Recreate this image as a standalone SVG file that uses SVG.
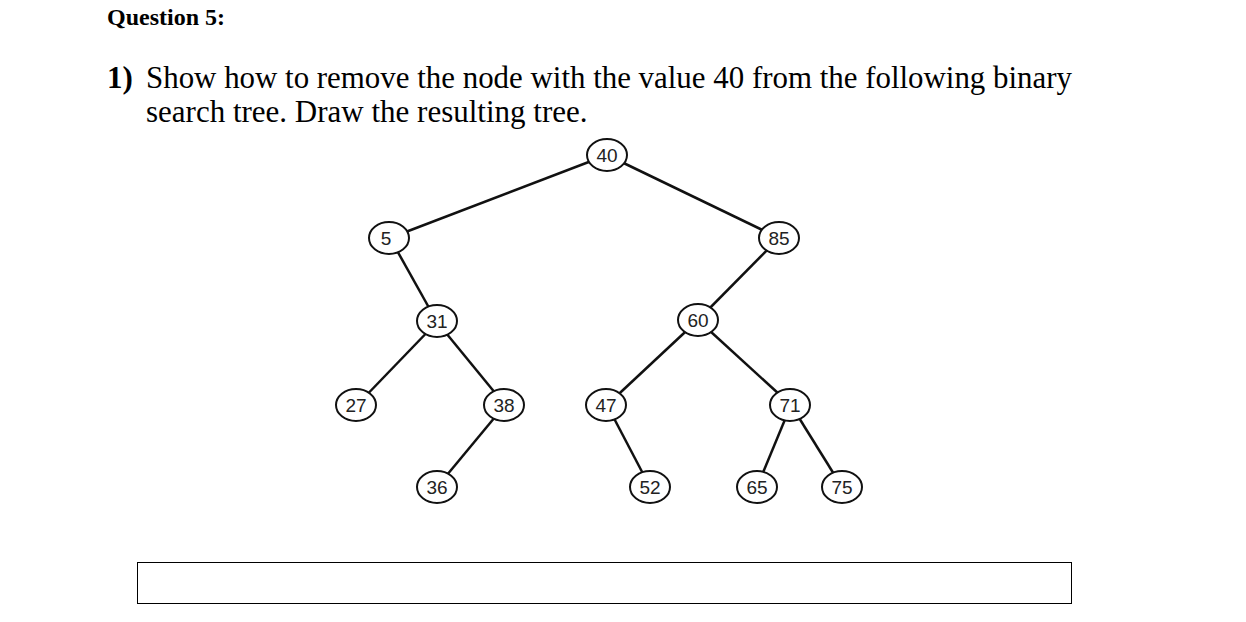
<svg xmlns="http://www.w3.org/2000/svg" width="1246" height="622" viewBox="0 0 1246 622">
<style>
.t{font-family:"Liberation Serif",serif;fill:#000}
.n ellipse{fill:#fff;stroke:#111;stroke-width:2}
.n text{font-family:"Liberation Sans",Arial,sans-serif;font-size:19px;text-anchor:middle;fill:#222}
.e line{stroke:#111;stroke-width:2.5}
</style>
<rect width="1246" height="622" fill="#fff"/>
<text class="t" x="107" y="25" font-size="24" font-weight="bold">Question 5:</text>
<text class="t" x="107" y="88" font-size="31" font-weight="bold">1)</text>
<text class="t" x="146" y="88" font-size="31" textLength="926" lengthAdjust="spacingAndGlyphs">Show how to remove the node with the value 40 from the following binary</text>
<text class="t" x="146" y="122" font-size="31">search tree. Draw the resulting tree.</text>
<g class="e">
<line x1="607" y1="155" x2="390" y2="238"/>
<line x1="607" y1="155" x2="779" y2="238"/>
<line x1="390" y1="238" x2="437" y2="322"/>
<line x1="779" y1="238" x2="698" y2="320"/>
<line x1="437" y1="322" x2="357" y2="405"/>
<line x1="437" y1="322" x2="505" y2="405"/>
<line x1="698" y1="320" x2="607" y2="405"/>
<line x1="698" y1="320" x2="791" y2="405"/>
<line x1="505" y1="405" x2="437" y2="487"/>
<line x1="607" y1="405" x2="650" y2="487"/>
<line x1="791" y1="405" x2="757" y2="487"/>
<line x1="791" y1="405" x2="842" y2="487"/>
</g>
<g id="n40" class="n"><ellipse cx="607" cy="155" rx="20" ry="16"/><text x="607" y="162">40</text></g>
<g id="n5" class="n"><ellipse cx="389" cy="238" rx="20" ry="16"/><text x="386" y="245">5</text></g>
<g id="n85" class="n"><ellipse cx="779" cy="238" rx="20" ry="16"/><text x="779" y="245">85</text></g>
<g id="n31" class="n"><ellipse cx="437" cy="321" rx="20" ry="16"/><text x="437" y="328">31</text></g>
<g id="n60" class="n"><ellipse cx="698" cy="320" rx="20" ry="16"/><text x="698" y="327">60</text></g>
<g id="n27" class="n"><ellipse cx="356" cy="405" rx="20" ry="16"/><text x="356" y="412">27</text></g>
<g id="n38" class="n"><ellipse cx="504" cy="405" rx="20" ry="16"/><text x="504" y="412">38</text></g>
<g id="n47" class="n"><ellipse cx="606" cy="405" rx="20" ry="16"/><text x="606" y="412">47</text></g>
<g id="n71" class="n"><ellipse cx="790" cy="405" rx="20" ry="16"/><text x="790" y="412">71</text></g>
<g id="n36" class="n"><ellipse cx="437" cy="487" rx="20" ry="16"/><text x="437" y="494">36</text></g>
<g id="n52" class="n"><ellipse cx="650" cy="487" rx="20" ry="16"/><text x="650" y="494">52</text></g>
<g id="n65" class="n"><ellipse cx="757" cy="487" rx="20" ry="16"/><text x="757" y="494">65</text></g>
<g id="n75" class="n"><ellipse cx="842" cy="487" rx="20" ry="16"/><text x="842" y="494">75</text></g>
<rect x="137.5" y="562.5" width="934" height="41" fill="none" stroke="#000" stroke-width="1"/>
</svg>
